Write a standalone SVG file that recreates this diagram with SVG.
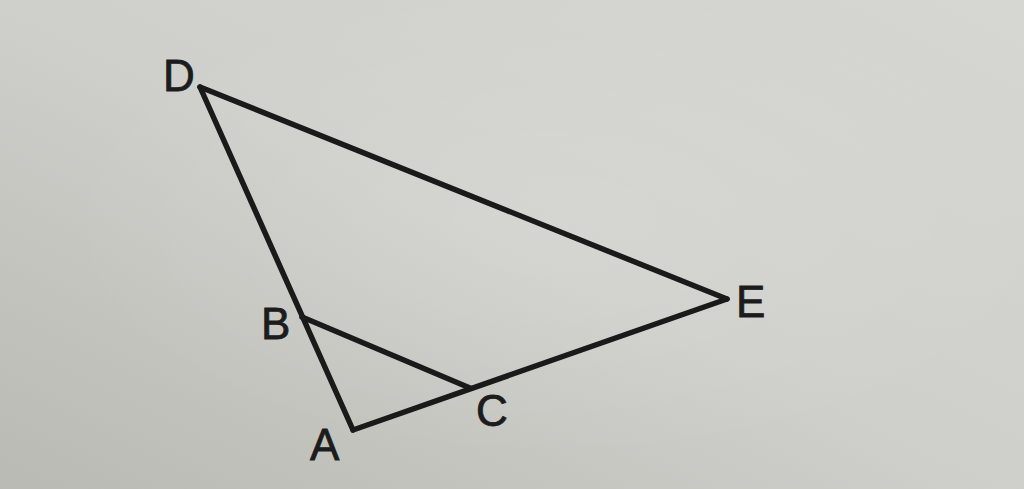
<svg xmlns="http://www.w3.org/2000/svg" width="1024" height="489" viewBox="0 0 1024 489">
  <defs>
    <linearGradient id="bg" x1="0" y1="1" x2="1" y2="0">
      <stop offset="0" stop-color="#babab4"/>
      <stop offset="0.5" stop-color="#cfcfcb"/>
      <stop offset="1" stop-color="#d6d6d2"/>
    </linearGradient>
    <radialGradient id="glow" cx="0.55" cy="0.45" r="0.5">
      <stop offset="0" stop-color="#ffffff" stop-opacity="0.12"/>
      <stop offset="1" stop-color="#ffffff" stop-opacity="0"/>
    </radialGradient>
  </defs>
  <style>
    .ln { stroke: #1a1a1a; stroke-width: 5.5; stroke-linecap: round; stroke-linejoin: round; fill: none; }
    .lbl { font-family: "Liberation Sans", Arial, sans-serif; font-size: 44px; fill: #1c1c1c; stroke: #1c1c1c; stroke-width: 0.8; }
  </style>
  <rect width="1024" height="489" fill="url(#bg)"/>
  <rect width="1024" height="489" fill="url(#glow)"/>
  <g id="connectors">
    <line class="ln" x1="200" y1="87" x2="727" y2="299"/>
    <line class="ln" x1="200" y1="87" x2="353" y2="430"/>
    <line class="ln" x1="353" y1="430" x2="727" y2="299"/>
    <line class="ln" x1="302" y1="317" x2="470" y2="388"/>
  </g>
  <g id="D"><text class="lbl" x="163" y="91">D</text></g>
  <g id="E"><text class="lbl" x="736" y="317">E</text></g>
  <g id="B"><text class="lbl" x="261" y="339">B</text></g>
  <g id="A"><text class="lbl" x="310" y="460">A</text></g>
  <g id="C"><text class="lbl" x="476" y="426">C</text></g>
</svg>
